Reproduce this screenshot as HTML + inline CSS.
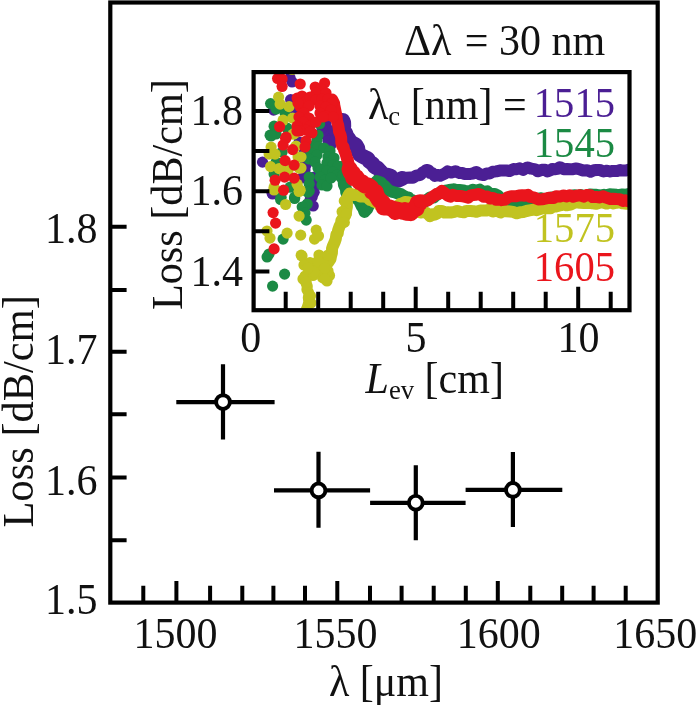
<!DOCTYPE html>
<html lang="en"><head><meta charset="utf-8"><title>Loss vs wavelength</title>
<style>html,body{margin:0;padding:0;background:#fff}svg{display:block}text{font-family:"Liberation Serif", serif;fill:#111}</style>
</head><body>
<svg width="698" height="705" viewBox="0 0 698 705">
<rect width="698" height="705" fill="#fff"/>
<path d="M143.3 602.6V585.8M176.4 602.6V580.9M210.1 602.6V585.8M242.3 602.6V585.8M273.4 602.6V585.8M305.0 602.6V585.8M337.3 602.6V580.9M370.0 602.6V585.8M401.6 602.6V585.8M433.7 602.6V585.8M465.8 602.6V585.8M497.8 602.6V580.9M530.3 602.6V585.8M562.2 602.6V585.8M593.6 602.6V585.8M625.7 602.6V585.8M110.3 226.8H126.6M110.3 290.0H126.6M110.3 351.8H126.6M110.3 414.3H126.6M110.3 477.5H126.6M110.3 540.2H126.6" stroke="#000" stroke-width="4" fill="none"/>
<rect x="110.3" y="2.5" width="547.4" height="600.1" fill="none" stroke="#000" stroke-width="4.2"/>
<text transform="translate(97.5 614.2) scale(0.955 1)" font-size="44" text-anchor="end">1.5</text>
<text transform="translate(97.5 495.4) scale(0.955 1)" font-size="44" text-anchor="end">1.6</text>
<text transform="translate(97.5 364.4) scale(0.955 1)" font-size="44" text-anchor="end">1.7</text>
<text transform="translate(97.5 243.3) scale(0.955 1)" font-size="44" text-anchor="end">1.8</text>
<text transform="translate(175.6 647.6) scale(0.955 1)" font-size="44" text-anchor="middle">1500</text>
<text transform="translate(335.5 647.6) scale(0.955 1)" font-size="44" text-anchor="middle">1550</text>
<text transform="translate(498.7 647.6) scale(0.955 1)" font-size="44" text-anchor="middle">1600</text>
<text transform="translate(655.2 647.6) scale(0.955 1)" font-size="44" text-anchor="middle">1650</text>
<text transform="translate(386.0 696.0) scale(0.955 1)" font-size="44" text-anchor="middle">λ [μm]</text>
<text transform="translate(33.2 411.3) rotate(-90) scale(0.965 1)" font-size="44" text-anchor="middle">Loss [dB/cm]</text>
<text transform="translate(404.0 54.7) scale(0.955 1)" font-size="44">Δλ<tspan dx="3"> = 30 nm</tspan></text>
<path d="M176.3 402.1H274.6M223.0 364.3V439.4M274.0 490.4H370.1M318.5 451.7V527.7M370.1 502.8H465.6M415.8 465.3V540.3M465.6 489.9H562.3M512.9 452.0V527.1" stroke="#000" stroke-width="4.2" fill="none"/>
<circle cx="223.0" cy="402.1" r="6.9" fill="#fff" stroke="#000" stroke-width="3.9"/>
<circle cx="318.5" cy="490.4" r="6.9" fill="#fff" stroke="#000" stroke-width="3.9"/>
<circle cx="415.8" cy="502.8" r="6.9" fill="#fff" stroke="#000" stroke-width="3.9"/>
<circle cx="512.9" cy="489.9" r="6.9" fill="#fff" stroke="#000" stroke-width="3.9"/>
<rect x="253.6" y="72.1" width="375.9" height="238.1" fill="#fff"/>
<text transform="translate(368.0 118.5) scale(0.955 1)" font-size="44">λ<tspan font-size="28" dy="6">c</tspan><tspan dy="-6"> [nm] =</tspan></text>
<text transform="translate(574.4 117.3) scale(0.955 1)" font-size="42.5" text-anchor="middle" style="fill:#4b1f94">1515</text>
<text transform="translate(574.4 157.2) scale(0.955 1)" font-size="42.5" text-anchor="middle" style="fill:#1b8a44">1545</text>
<text transform="translate(574.4 241.9) scale(0.955 1)" font-size="42.5" text-anchor="middle" style="fill:#c1c320">1575</text>
<text transform="translate(574.4 281.4) scale(0.955 1)" font-size="42.5" text-anchor="middle" style="fill:#ea151c">1605</text>
<text transform="translate(243.0 124.5) scale(0.955 1)" font-size="44" text-anchor="end">1.8</text>
<text transform="translate(243.0 204.5) scale(0.955 1)" font-size="44" text-anchor="end">1.6</text>
<text transform="translate(243.0 286.2) scale(0.955 1)" font-size="44" text-anchor="end">1.4</text>
<text transform="translate(250.8 352.2) scale(0.955 1)" font-size="44" text-anchor="middle">0</text>
<text transform="translate(416.0 352.2) scale(0.955 1)" font-size="44" text-anchor="middle">5</text>
<text transform="translate(578.6 352.2) scale(0.955 1)" font-size="44" text-anchor="middle">10</text>
<text transform="translate(365.5 393.0) scale(0.955 1)" font-size="44"><tspan font-style="italic">L</tspan><tspan font-size="28" dy="6">ev</tspan><tspan dy="-6"> [cm]</tspan></text>
<text transform="translate(182.0 194.6) rotate(-90) scale(0.960 1)" font-size="44" text-anchor="middle">Loss [dB/cm]</text>
<clipPath id="ic"><rect x="253.6" y="72.1" width="375.9" height="238.1"/></clipPath>
<g clip-path="url(#ic)">
<g fill="#4b1f94" stroke="#4b1f94">
<polyline points="342.7,120.4 343.6,122.6 343.7,126.1 343.2,129.0 344.3,131.5 345.5,133.0 347.4,138.0 348.4,138.3 351.1,142.8 352.6,143.2 355.7,144.8 357.7,148.3 357.8,150.0 359.6,154.5 361.9,156.0 365.3,157.6 367.6,158.6 369.2,161.1 372.8,164.0 374.6,166.8 377.4,168.1 380.6,171.6 382.0,173.0 385.0,175.7 387.9,175.3 390.9,176.3 392.3,179.5 394.3,179.8 398.1,180.3 402.0,178.5" fill="none" stroke-width="15.0" stroke-linecap="round" stroke-linejoin="round"/>
<polyline points="399.3,180.2 402.5,177.6 406.3,177.7 410.1,177.5 412.9,177.8 415.0,176.4 416.9,175.4 420.2,175.1 422.8,172.2 424.5,171.7 426.4,169.9 428.6,170.4 430.4,173.1 432.5,173.2 434.9,175.9 436.9,174.9 440.1,175.8 444.4,173.8 447.7,171.4 451.3,172.6 455.6,171.2 457.1,171.9 459.6,173.0 462.6,173.0 464.3,173.9 467.3,173.9 470.6,173.9 473.0,173.5 476.2,172.0 480.0,174.3 483.5,175.0 486.4,173.6 489.5,173.6 492.8,171.8 496.3,171.4 499.8,170.6 502.7,170.4 506.1,170.4 509.4,171.1 513.5,169.1 516.3,169.2 519.8,168.3 523.1,169.9 525.3,168.5 527.5,167.4 531.3,168.7 535.4,169.4 537.7,171.3 541.7,169.8 545.1,169.8 547.5,171.4 550.5,170.2 552.2,168.9 554.6,169.2 557.5,168.8 559.8,167.2 563.7,169.2 567.1,169.1 570.4,169.3 573.0,169.2 576.5,168.4 579.4,169.3 583.0,170.5 587.3,170.2 590.6,171.7 593.9,170.3 596.3,170.0 599.6,169.9 603.5,171.5 607.1,170.7 610.2,171.5 612.8,170.9 617.2,171.0 620.3,170.1 622.6,170.6 625.8,170.5 629.6,169.4 632.0,169.5" fill="none" stroke-width="12.0" stroke-linecap="round" stroke-linejoin="round"/>
<g stroke="none"><circle cx="290.1" cy="78.0" r="5.6"/><circle cx="292.1" cy="82.0" r="5.6"/><circle cx="290.6" cy="99.6" r="5.6"/><circle cx="295.1" cy="110.1" r="5.6"/><circle cx="273.6" cy="110.1" r="5.6"/><circle cx="262.5" cy="162.1" r="5.6"/><circle cx="272.1" cy="193.2" r="5.6"/><circle cx="272.6" cy="194.0" r="5.6"/><circle cx="304.2" cy="151.1" r="5.6"/><circle cx="305.2" cy="164.1" r="5.6"/><circle cx="304.2" cy="173.1" r="5.6"/><circle cx="314.2" cy="177.1" r="5.6"/><circle cx="314.2" cy="192.2" r="5.6"/><circle cx="310.2" cy="199.2" r="5.6"/><circle cx="299.1" cy="142.0" r="5.6"/><circle cx="312.2" cy="197.0" r="5.6"/><circle cx="313.2" cy="206.0" r="5.6"/><circle cx="306.0" cy="165.0" r="5.6"/><circle cx="305.0" cy="170.0" r="5.6"/><circle cx="315.0" cy="183.0" r="5.6"/><circle cx="302.0" cy="178.0" r="5.6"/><circle cx="326.0" cy="124.0" r="5.6"/><circle cx="329.0" cy="130.0" r="5.6"/><circle cx="324.0" cy="134.0" r="5.6"/><circle cx="332.0" cy="138.0" r="5.6"/><circle cx="328.0" cy="141.0" r="5.6"/><circle cx="334.0" cy="131.0" r="5.6"/><circle cx="322.0" cy="128.0" r="5.6"/><circle cx="331.0" cy="145.0" r="5.6"/><circle cx="335.0" cy="140.0" r="5.6"/><circle cx="326.6" cy="111.1" r="5.6"/></g>
</g>
<g fill="#1b8a44" stroke="#1b8a44">
<polyline points="340.9,167.0 341.8,168.3 341.5,171.2 343.0,175.7 342.5,178.5 344.1,180.8 343.8,183.4 344.0,184.9 346.0,189.0 346.2,192.3 347.0,194.0" fill="none" stroke-width="12.0" stroke-linecap="round" stroke-linejoin="round"/>
<polyline points="357.9,199.8 359.8,200.7 360.3,203.2 361.7,206.2 363.2,208.3 364.5,211.9 367.3,208.9 368.4,206.4 368.9,202.9 369.7,198.7 370.4,194.3 370.9,191.3 371.3,190.0 372.6,186.6 374.3,184.1 376.8,181.0 381.1,182.6 382.1,184.1 384.0,185.5 386.4,188.0 389.1,190.6 392.5,191.9 395.1,192.5 398.0,193.4 400.9,194.1 404.0,196.0 406.3,197.3 408.6,197.5 410.1,200.5 412.4,200.2 414.5,201.9 417.4,202.4 420.4,202.4 424.4,201.9 426.5,200.1 430.2,197.5 433.5,197.6 435.6,195.8 438.9,193.2 442.6,192.3 444.2,191.0 447.4,190.4 449.6,190.0 453.6,189.3 456.7,190.3 459.4,190.0 463.5,190.4 466.1,191.3 470.4,191.2 472.8,189.8 476.1,190.9 479.7,189.6 483.2,192.0 487.1,191.3 489.5,193.4 492.8,194.1 494.8,193.9 498.2,195.8 499.8,198.0 502.8,198.7 504.5,199.8 507.9,200.8 511.9,200.6 514.7,202.2 517.0,200.7 520.0,201.2 522.2,201.0 524.7,200.9 527.8,201.1 531.8,200.3 535.0,199.3 538.1,198.6 541.3,198.3 545.3,199.1 547.6,198.6 551.6,197.5 554.4,198.0 557.0,198.5 559.9,197.5 563.2,198.3 565.8,197.6 569.3,196.9 571.9,196.0 574.4,195.2 577.4,196.3 580.7,194.9 583.5,196.2 587.5,195.6 589.7,194.4 593.1,194.8 596.2,194.7 599.7,195.7 604.0,194.8 606.3,195.7 609.7,194.3 612.7,194.4 616.6,194.8 619.6,194.9 622.3,194.5 625.5,194.8 628.4,194.1 632.0,195.2" fill="none" stroke-width="12.0" stroke-linecap="round" stroke-linejoin="round"/>
<g stroke="none"><circle cx="270.6" cy="103.6" r="5.6"/><circle cx="276.1" cy="109.1" r="5.6"/><circle cx="285.1" cy="113.1" r="5.6"/><circle cx="274.1" cy="126.2" r="5.6"/><circle cx="270.1" cy="135.2" r="5.6"/><circle cx="287.1" cy="128.2" r="5.6"/><circle cx="276.0" cy="134.0" r="5.6"/><circle cx="271.1" cy="136.0" r="5.6"/><circle cx="276.1" cy="162.1" r="5.6"/><circle cx="274.1" cy="174.1" r="5.6"/><circle cx="290.1" cy="187.2" r="5.6"/><circle cx="294.6" cy="197.2" r="5.6"/><circle cx="281.1" cy="197.2" r="5.6"/><circle cx="282.1" cy="152.1" r="5.6"/><circle cx="319.6" cy="123.7" r="5.6"/><circle cx="318.0" cy="135.2" r="5.6"/><circle cx="317.0" cy="140.0" r="5.6"/><circle cx="313.0" cy="146.0" r="5.6"/><circle cx="318.0" cy="147.0" r="5.6"/><circle cx="324.0" cy="148.0" r="5.6"/><circle cx="330.0" cy="151.0" r="5.6"/><circle cx="311.0" cy="153.0" r="5.6"/><circle cx="317.0" cy="155.0" r="5.6"/><circle cx="328.0" cy="157.0" r="5.6"/><circle cx="334.0" cy="158.0" r="5.6"/><circle cx="309.0" cy="159.0" r="5.6"/><circle cx="315.0" cy="162.0" r="5.6"/><circle cx="327.0" cy="163.0" r="5.6"/><circle cx="333.0" cy="165.0" r="5.6"/><circle cx="338.0" cy="166.0" r="5.6"/><circle cx="318.0" cy="168.0" r="5.6"/><circle cx="321.0" cy="170.0" r="5.6"/><circle cx="327.0" cy="171.0" r="5.6"/><circle cx="333.0" cy="172.0" r="5.6"/><circle cx="337.0" cy="175.0" r="5.6"/><circle cx="320.0" cy="177.0" r="5.6"/><circle cx="325.0" cy="180.0" r="5.6"/><circle cx="322.0" cy="185.0" r="5.6"/><circle cx="327.0" cy="186.0" r="5.6"/><circle cx="331.0" cy="178.0" r="5.6"/><circle cx="309.2" cy="177.0" r="5.6"/><circle cx="309.2" cy="184.0" r="5.6"/><circle cx="309.2" cy="191.0" r="5.6"/><circle cx="308.0" cy="192.0" r="5.6"/><circle cx="307.7" cy="192.0" r="5.6"/><circle cx="307.2" cy="204.0" r="5.6"/><circle cx="302.2" cy="207.0" r="5.6"/><circle cx="306.2" cy="220.1" r="5.6"/><circle cx="305.0" cy="213.0" r="5.6"/><circle cx="280.6" cy="199.5" r="5.6"/><circle cx="294.6" cy="198.5" r="5.6"/><circle cx="283.1" cy="239.1" r="5.6"/><circle cx="267.1" cy="257.0" r="5.6"/><circle cx="269.0" cy="254.0" r="5.6"/><circle cx="284.6" cy="274.1" r="5.6"/><circle cx="272.6" cy="286.1" r="5.6"/><circle cx="364.2" cy="210.1" r="5.6"/><circle cx="343.1" cy="175.1" r="5.6"/><circle cx="345.1" cy="186.2" r="5.6"/></g>
</g>
<g fill="#c1c320" stroke="#c1c320">
<polyline points="305.9,310.4 307.1,307.7 308.1,304.7 308.8,301.8 308.3,297.6 308.9,294.2 308.5,292.3 306.9,289.7 307.3,286.3 306.3,283.7 305.0,279.6 305.0,276.0" fill="none" stroke-width="11.0" stroke-linecap="round" stroke-linejoin="round"/>
<polyline points="328.0,262.7 330.5,258.9 331.0,256.2 331.9,252.9 332.1,248.6 332.7,246.5 333.5,244.7 334.9,241.5 335.8,238.8 336.4,234.6 337.7,233.4 338.1,230.2 339.6,226.1 341.0,223.5 341.4,220.5 343.7,217.4 345.0,216.1 346.1,211.8 346.3,209.7 346.9,206.7 346.9,202.7 346.4,200.3 347.4,197.6 348.7,194.9 349.6,193.5 353.7,194.9 357.2,195.0 360.0,196.4 363.5,196.4 367.5,197.3 370.0,200.0 371.0,199.9 374.4,202.0 376.9,202.2 379.6,205.3 382.6,206.2 385.5,206.4 389.6,205.9 392.4,207.0 395.2,206.8 397.0,206.5 400.0,204.0 401.8,203.7 404.9,202.1 408.5,202.2 411.8,205.7 414.3,208.6 417.9,209.2 420.6,212.5 423.5,211.9 425.8,212.5 428.8,214.8 430.1,216.3 432.4,214.3 434.5,214.7 436.7,213.8 438.6,211.1 441.8,210.9 444.5,212.5 448.0,212.2 450.8,212.5 454.3,211.9 457.2,210.9 460.3,211.9 463.7,212.3 466.4,210.9 470.6,211.0 473.3,211.2 476.4,211.8 480.6,210.5 483.5,210.4 486.7,210.4 489.6,209.7 492.9,211.6 496.7,210.5 500.5,212.5 503.3,210.9 506.3,211.2 509.8,211.5 513.0,211.9 516.8,213.3 520.3,212.2 523.2,212.0 526.5,211.0 529.4,210.4 534.0,209.6 536.7,210.2 540.5,208.8 543.0,208.2 546.5,207.9 550.6,208.2 553.8,205.7 556.0,206.5 560.5,205.3 563.4,203.8 566.5,205.3 570.4,204.6 574.0,202.8 576.2,202.1 580.0,202.8 583.9,203.0 586.9,203.1 589.9,202.7 592.7,203.4 596.3,203.8 600.2,202.6 602.8,202.5 606.8,203.6 609.5,202.3 613.4,203.4 616.5,202.7 620.1,202.3 622.7,203.4 626.6,203.8 629.5,203.5 632.0,203.6" fill="none" stroke-width="12.0" stroke-linecap="round" stroke-linejoin="round"/>
<g stroke="none"><circle cx="316.0" cy="268.0" r="5.6"/><circle cx="319.5" cy="273.0" r="5.6"/><circle cx="322.5" cy="277.5" r="5.6"/><circle cx="327.0" cy="281.0" r="5.6"/><circle cx="329.5" cy="275.5" r="5.6"/><circle cx="313.0" cy="275.5" r="5.6"/><circle cx="310.0" cy="262.5" r="5.6"/><circle cx="321.0" cy="261.0" r="5.6"/><circle cx="326.0" cy="272.5" r="5.6"/><circle cx="303.0" cy="279.0" r="5.6"/><circle cx="310.5" cy="296.0" r="5.6"/><circle cx="311.0" cy="303.0" r="5.6"/><circle cx="302.0" cy="256.0" r="5.6"/><circle cx="304.0" cy="265.0" r="5.6"/><circle cx="312.0" cy="267.0" r="5.6"/><circle cx="319.0" cy="255.0" r="5.6"/><circle cx="323.0" cy="263.0" r="5.6"/><circle cx="328.0" cy="255.0" r="5.6"/><circle cx="332.0" cy="249.0" r="5.6"/><circle cx="328.0" cy="271.0" r="5.6"/><circle cx="325.0" cy="279.0" r="5.6"/><circle cx="314.0" cy="272.0" r="5.6"/><circle cx="306.0" cy="282.0" r="5.6"/><circle cx="318.0" cy="261.0" r="5.6"/><circle cx="308.0" cy="268.0" r="5.6"/><circle cx="325.0" cy="268.0" r="5.6"/><circle cx="344.3" cy="200.9" r="5.6"/><circle cx="342.1" cy="211.7" r="5.6"/><circle cx="346.4" cy="213.8" r="5.6"/><circle cx="344.3" cy="222.4" r="5.6"/><circle cx="278.6" cy="97.1" r="5.6"/><circle cx="280.1" cy="104.1" r="5.6"/><circle cx="289.1" cy="106.6" r="5.6"/><circle cx="283.1" cy="120.2" r="5.6"/><circle cx="292.6" cy="118.1" r="5.6"/><circle cx="293.1" cy="134.2" r="5.6"/><circle cx="292.1" cy="69.5" r="5.6"/><circle cx="271.1" cy="147.1" r="5.6"/><circle cx="269.1" cy="154.1" r="5.6"/><circle cx="275.1" cy="154.1" r="5.6"/><circle cx="270.6" cy="166.6" r="5.6"/><circle cx="279.1" cy="168.6" r="5.6"/><circle cx="288.1" cy="170.1" r="5.6"/><circle cx="299.1" cy="168.1" r="5.6"/><circle cx="298.1" cy="157.1" r="5.6"/><circle cx="295.1" cy="133.0" r="5.6"/><circle cx="274.1" cy="187.2" r="5.6"/><circle cx="297.1" cy="184.2" r="5.6"/><circle cx="300.2" cy="190.2" r="5.6"/><circle cx="296.0" cy="146.0" r="5.6"/><circle cx="301.0" cy="157.0" r="5.6"/><circle cx="301.0" cy="168.0" r="5.6"/><circle cx="299.1" cy="191.5" r="5.6"/><circle cx="274.0" cy="190.0" r="5.6"/><circle cx="285.6" cy="204.5" r="5.6"/><circle cx="299.1" cy="216.1" r="5.6"/><circle cx="287.1" cy="233.1" r="5.6"/><circle cx="300.7" cy="235.1" r="5.6"/><circle cx="267.0" cy="231.0" r="5.6"/><circle cx="270.0" cy="238.1" r="5.6"/><circle cx="316.2" cy="230.1" r="5.6"/><circle cx="314.5" cy="239.1" r="5.6"/><circle cx="318.5" cy="236.0" r="5.6"/><circle cx="301.2" cy="255.2" r="5.6"/></g>
</g>
<g fill="#ea151c" stroke="#ea151c">
<polyline points="332.1,99.4 334.1,103.5 334.2,104.9 335.2,109.7 335.7,112.1 336.7,116.9 336.6,118.3 337.3,122.5 338.2,125.3 338.9,129.5 339.0,131.4 340.5,134.8 341.2,137.9 341.3,142.3 342.2,146.0 343.5,146.9 344.1,150.0 345.7,153.8 346.0,155.2 347.1,159.0 347.8,160.0 348.5,163.8 349.8,167.0" fill="none" stroke-width="12.0" stroke-linecap="round" stroke-linejoin="round"/>
<polyline points="349.7,169.2 350.9,172.5 352.8,173.5 353.4,177.8 356.4,177.6 358.3,180.4 359.8,182.0 361.9,182.5 364.6,185.1 368.3,185.9 370.8,187.6 372.2,191.5 375.6,192.3 376.2,195.2 378.8,199.3 379.9,200.6 382.7,202.6 383.8,207.2 386.5,207.2 389.2,207.7 393.3,209.0 395.4,211.7 397.2,209.8 400.8,210.9 402.1,211.4 404.7,210.3 406.6,212.5 410.7,212.9 413.8,209.6 413.8,208.9 416.3,208.4 417.8,203.3 420.0,202.5" fill="none" stroke-width="16.5" stroke-linecap="round" stroke-linejoin="round"/>
<polyline points="419.9,202.0 423.1,200.6 425.4,201.0 427.9,200.4 430.1,198.6 432.8,196.7 436.4,194.1 438.6,194.0 441.7,190.9 445.4,193.6 447.8,195.6 450.5,196.7 453.0,194.9 456.1,195.9 460.3,196.0 462.3,196.2 465.5,197.0 468.3,197.7 470.7,195.4 473.4,195.0 475.6,194.8 478.3,193.9 480.7,194.7 483.5,196.8 487.1,196.4 489.9,198.6 492.7,197.9 495.7,199.8 498.6,199.5 501.5,200.2 505.4,199.5 507.7,197.3 511.2,196.3 515.6,196.3 518.9,195.5 522.1,195.3 524.7,195.7 528.1,194.9 530.1,196.8 532.1,197.2 534.5,197.7 538.2,199.4 542.2,199.2 544.0,199.0 547.6,198.2 549.8,197.7 553.7,197.9 556.1,196.3 559.9,196.6 563.5,195.4 566.2,196.5 569.9,195.3 573.1,196.7 576.4,195.7 579.8,195.2 583.8,196.7 586.5,195.1 590.3,195.3 592.7,197.1 596.6,197.1 599.9,197.4 603.3,196.3 606.0,197.6 610.2,198.9 612.8,198.8 616.5,199.1 619.5,199.2 623.0,201.0 625.5,200.3 629.4,201.7 632.0,201.0" fill="none" stroke-width="12.0" stroke-linecap="round" stroke-linejoin="round"/>
<g stroke="none"><circle cx="277.6" cy="78.5" r="5.6"/><circle cx="282.1" cy="79.0" r="5.6"/><circle cx="282.1" cy="86.5" r="5.6"/><circle cx="300.2" cy="84.0" r="5.6"/><circle cx="315.2" cy="87.0" r="5.6"/><circle cx="324.6" cy="83.0" r="5.6"/><circle cx="321.0" cy="89.0" r="5.6"/><circle cx="316.0" cy="93.0" r="5.6"/><circle cx="326.0" cy="93.0" r="5.6"/><circle cx="297.1" cy="98.1" r="5.6"/><circle cx="302.0" cy="96.0" r="5.6"/><circle cx="306.2" cy="101.1" r="5.6"/><circle cx="300.2" cy="107.1" r="5.6"/><circle cx="298.0" cy="103.0" r="5.6"/><circle cx="310.0" cy="97.0" r="5.6"/><circle cx="316.0" cy="100.0" r="5.6"/><circle cx="322.0" cy="99.0" r="5.6"/><circle cx="328.0" cy="99.0" r="5.6"/><circle cx="332.0" cy="103.0" r="5.6"/><circle cx="309.0" cy="106.0" r="5.6"/><circle cx="320.0" cy="106.0" r="5.6"/><circle cx="326.0" cy="107.0" r="5.6"/><circle cx="331.0" cy="110.0" r="5.6"/><circle cx="304.0" cy="113.0" r="5.6"/><circle cx="299.0" cy="117.0" r="5.6"/><circle cx="309.0" cy="118.0" r="5.6"/><circle cx="320.0" cy="113.0" r="5.6"/><circle cx="326.0" cy="116.0" r="5.6"/><circle cx="333.0" cy="117.0" r="5.6"/><circle cx="303.0" cy="122.0" r="5.6"/><circle cx="297.1" cy="126.2" r="5.6"/><circle cx="310.0" cy="126.0" r="5.6"/><circle cx="316.0" cy="122.0" r="5.6"/><circle cx="323.0" cy="117.0" r="5.6"/><circle cx="306.2" cy="130.2" r="5.6"/><circle cx="300.0" cy="131.0" r="5.6"/><circle cx="312.0" cy="133.0" r="5.6"/><circle cx="297.0" cy="131.0" r="5.6"/><circle cx="310.0" cy="132.0" r="5.6"/><circle cx="306.0" cy="141.0" r="5.6"/><circle cx="305.0" cy="147.0" r="5.6"/><circle cx="279.6" cy="126.7" r="5.6"/><circle cx="286.1" cy="137.2" r="5.6"/><circle cx="285.6" cy="138.5" r="5.6"/><circle cx="283.1" cy="145.0" r="5.6"/><circle cx="292.6" cy="149.6" r="5.6"/><circle cx="285.1" cy="160.6" r="5.6"/><circle cx="294.1" cy="165.1" r="5.6"/><circle cx="275.1" cy="180.2" r="5.6"/><circle cx="284.6" cy="177.1" r="5.6"/><circle cx="294.1" cy="178.1" r="5.6"/><circle cx="283.6" cy="190.2" r="5.6"/><circle cx="273.1" cy="212.6" r="5.6"/><circle cx="275.6" cy="223.1" r="5.6"/><circle cx="274.1" cy="248.9" r="5.6"/></g>
</g>
</g>
<path d="M285.7 310.2V291.7M318.2 310.2V291.7M350.7 310.2V291.7M383.2 310.2V291.7M415.7 310.2V286.8M448.2 310.2V291.7M480.7 310.2V291.7M513.2 310.2V291.7M545.7 310.2V291.7M578.2 310.2V286.8M610.7 310.2V291.7M253.6 271.4H269.4M253.6 231.3H269.4M253.6 191.2H269.4M253.6 151.1H269.4M253.6 111.0H269.4" stroke="#000" stroke-width="4" fill="none"/>
<rect x="253.6" y="72.1" width="375.9" height="238.1" fill="none" stroke="#000" stroke-width="4.2"/>
</svg></body></html>
